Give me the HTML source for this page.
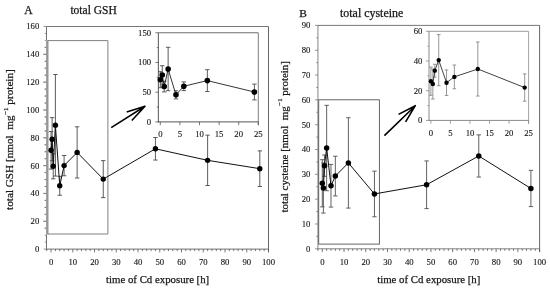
<!DOCTYPE html>
<html><head><meta charset="utf-8"><title>Figure</title>
<style>html,body{margin:0;padding:0;background:#fff}svg{display:block}</style></head>
<body>
<svg width="550" height="292" viewBox="0 0 550 292" font-family="Liberation Serif, serif" fill="#111" stroke="none">
<rect width="550" height="292" fill="#fff"/>
<line x1="46.50" y1="26.50" x2="268.50" y2="26.50" stroke="#666" stroke-width="0.9"/>
<line x1="268.50" y1="26.50" x2="268.50" y2="252.10" stroke="#555" stroke-width="0.9"/>
<line x1="46.50" y1="26.50" x2="46.50" y2="249.50" stroke="#707070" stroke-width="1"/>
<line x1="46.10" y1="249.10" x2="268.50" y2="249.10" stroke="#707070" stroke-width="1"/>
<line x1="43.60" y1="249.10" x2="46.50" y2="249.10" stroke="#777" stroke-width="0.8"/>
<text x="39.30" y="252.05" font-size="8.7" text-anchor="end" stroke="#222" stroke-width="0.12">0</text>
<line x1="44.80" y1="242.14" x2="46.50" y2="242.14" stroke="#777" stroke-width="0.8"/>
<line x1="44.80" y1="235.19" x2="46.50" y2="235.19" stroke="#777" stroke-width="0.8"/>
<line x1="44.80" y1="228.23" x2="46.50" y2="228.23" stroke="#777" stroke-width="0.8"/>
<line x1="43.60" y1="221.27" x2="46.50" y2="221.27" stroke="#777" stroke-width="0.8"/>
<text x="39.30" y="224.22" font-size="8.7" text-anchor="end" stroke="#222" stroke-width="0.12">20</text>
<line x1="44.80" y1="214.32" x2="46.50" y2="214.32" stroke="#777" stroke-width="0.8"/>
<line x1="44.80" y1="207.36" x2="46.50" y2="207.36" stroke="#777" stroke-width="0.8"/>
<line x1="44.80" y1="200.40" x2="46.50" y2="200.40" stroke="#777" stroke-width="0.8"/>
<line x1="43.60" y1="193.45" x2="46.50" y2="193.45" stroke="#777" stroke-width="0.8"/>
<text x="39.30" y="196.40" font-size="8.7" text-anchor="end" stroke="#222" stroke-width="0.12">40</text>
<line x1="44.80" y1="186.49" x2="46.50" y2="186.49" stroke="#777" stroke-width="0.8"/>
<line x1="44.80" y1="179.53" x2="46.50" y2="179.53" stroke="#777" stroke-width="0.8"/>
<line x1="44.80" y1="172.58" x2="46.50" y2="172.58" stroke="#777" stroke-width="0.8"/>
<line x1="43.60" y1="165.62" x2="46.50" y2="165.62" stroke="#777" stroke-width="0.8"/>
<text x="39.30" y="168.57" font-size="8.7" text-anchor="end" stroke="#222" stroke-width="0.12">60</text>
<line x1="44.80" y1="158.67" x2="46.50" y2="158.67" stroke="#777" stroke-width="0.8"/>
<line x1="44.80" y1="151.71" x2="46.50" y2="151.71" stroke="#777" stroke-width="0.8"/>
<line x1="44.80" y1="144.75" x2="46.50" y2="144.75" stroke="#777" stroke-width="0.8"/>
<line x1="43.60" y1="137.80" x2="46.50" y2="137.80" stroke="#777" stroke-width="0.8"/>
<text x="39.30" y="140.75" font-size="8.7" text-anchor="end" stroke="#222" stroke-width="0.12">80</text>
<line x1="44.80" y1="130.84" x2="46.50" y2="130.84" stroke="#777" stroke-width="0.8"/>
<line x1="44.80" y1="123.88" x2="46.50" y2="123.88" stroke="#777" stroke-width="0.8"/>
<line x1="44.80" y1="116.93" x2="46.50" y2="116.93" stroke="#777" stroke-width="0.8"/>
<line x1="43.60" y1="109.97" x2="46.50" y2="109.97" stroke="#777" stroke-width="0.8"/>
<text x="39.30" y="112.92" font-size="8.7" text-anchor="end" stroke="#222" stroke-width="0.12">100</text>
<line x1="44.80" y1="103.01" x2="46.50" y2="103.01" stroke="#777" stroke-width="0.8"/>
<line x1="44.80" y1="96.06" x2="46.50" y2="96.06" stroke="#777" stroke-width="0.8"/>
<line x1="44.80" y1="89.10" x2="46.50" y2="89.10" stroke="#777" stroke-width="0.8"/>
<line x1="43.60" y1="82.14" x2="46.50" y2="82.14" stroke="#777" stroke-width="0.8"/>
<text x="39.30" y="85.09" font-size="8.7" text-anchor="end" stroke="#222" stroke-width="0.12">120</text>
<line x1="44.80" y1="75.19" x2="46.50" y2="75.19" stroke="#777" stroke-width="0.8"/>
<line x1="44.80" y1="68.23" x2="46.50" y2="68.23" stroke="#777" stroke-width="0.8"/>
<line x1="44.80" y1="61.27" x2="46.50" y2="61.27" stroke="#777" stroke-width="0.8"/>
<line x1="43.60" y1="54.32" x2="46.50" y2="54.32" stroke="#777" stroke-width="0.8"/>
<text x="39.30" y="57.27" font-size="8.7" text-anchor="end" stroke="#222" stroke-width="0.12">140</text>
<line x1="44.80" y1="47.36" x2="46.50" y2="47.36" stroke="#777" stroke-width="0.8"/>
<line x1="44.80" y1="40.41" x2="46.50" y2="40.41" stroke="#777" stroke-width="0.8"/>
<line x1="44.80" y1="33.45" x2="46.50" y2="33.45" stroke="#777" stroke-width="0.8"/>
<line x1="43.60" y1="26.49" x2="46.50" y2="26.49" stroke="#777" stroke-width="0.8"/>
<text x="39.30" y="29.44" font-size="8.7" text-anchor="end" stroke="#222" stroke-width="0.12">160</text>
<line x1="46.70" y1="249.10" x2="46.70" y2="251.10" stroke="#555" stroke-width="0.8"/>
<line x1="51.05" y1="249.10" x2="51.05" y2="252.40" stroke="#555" stroke-width="0.8"/>
<text x="51.05" y="264.90" font-size="8.7" text-anchor="middle" stroke="#222" stroke-width="0.12">0</text>
<line x1="55.40" y1="249.10" x2="55.40" y2="251.10" stroke="#555" stroke-width="0.8"/>
<line x1="59.75" y1="249.10" x2="59.75" y2="251.10" stroke="#555" stroke-width="0.8"/>
<line x1="64.10" y1="249.10" x2="64.10" y2="251.10" stroke="#555" stroke-width="0.8"/>
<line x1="68.45" y1="249.10" x2="68.45" y2="251.10" stroke="#555" stroke-width="0.8"/>
<line x1="72.80" y1="249.10" x2="72.80" y2="252.40" stroke="#555" stroke-width="0.8"/>
<text x="72.80" y="264.90" font-size="8.7" text-anchor="middle" stroke="#222" stroke-width="0.12">10</text>
<line x1="77.14" y1="249.10" x2="77.14" y2="251.10" stroke="#555" stroke-width="0.8"/>
<line x1="81.49" y1="249.10" x2="81.49" y2="251.10" stroke="#555" stroke-width="0.8"/>
<line x1="85.84" y1="249.10" x2="85.84" y2="251.10" stroke="#555" stroke-width="0.8"/>
<line x1="90.19" y1="249.10" x2="90.19" y2="251.10" stroke="#555" stroke-width="0.8"/>
<line x1="94.54" y1="249.10" x2="94.54" y2="252.40" stroke="#555" stroke-width="0.8"/>
<text x="94.54" y="264.90" font-size="8.7" text-anchor="middle" stroke="#222" stroke-width="0.12">20</text>
<line x1="98.89" y1="249.10" x2="98.89" y2="251.10" stroke="#555" stroke-width="0.8"/>
<line x1="103.24" y1="249.10" x2="103.24" y2="251.10" stroke="#555" stroke-width="0.8"/>
<line x1="107.59" y1="249.10" x2="107.59" y2="251.10" stroke="#555" stroke-width="0.8"/>
<line x1="111.94" y1="249.10" x2="111.94" y2="251.10" stroke="#555" stroke-width="0.8"/>
<line x1="116.28" y1="249.10" x2="116.28" y2="252.40" stroke="#555" stroke-width="0.8"/>
<text x="116.28" y="264.90" font-size="8.7" text-anchor="middle" stroke="#222" stroke-width="0.12">30</text>
<line x1="120.63" y1="249.10" x2="120.63" y2="251.10" stroke="#555" stroke-width="0.8"/>
<line x1="124.98" y1="249.10" x2="124.98" y2="251.10" stroke="#555" stroke-width="0.8"/>
<line x1="129.33" y1="249.10" x2="129.33" y2="251.10" stroke="#555" stroke-width="0.8"/>
<line x1="133.68" y1="249.10" x2="133.68" y2="251.10" stroke="#555" stroke-width="0.8"/>
<line x1="138.03" y1="249.10" x2="138.03" y2="252.40" stroke="#555" stroke-width="0.8"/>
<text x="138.03" y="264.90" font-size="8.7" text-anchor="middle" stroke="#222" stroke-width="0.12">40</text>
<line x1="142.38" y1="249.10" x2="142.38" y2="251.10" stroke="#555" stroke-width="0.8"/>
<line x1="146.73" y1="249.10" x2="146.73" y2="251.10" stroke="#555" stroke-width="0.8"/>
<line x1="151.08" y1="249.10" x2="151.08" y2="251.10" stroke="#555" stroke-width="0.8"/>
<line x1="155.43" y1="249.10" x2="155.43" y2="251.10" stroke="#555" stroke-width="0.8"/>
<line x1="159.78" y1="249.10" x2="159.78" y2="252.40" stroke="#555" stroke-width="0.8"/>
<text x="159.78" y="264.90" font-size="8.7" text-anchor="middle" stroke="#222" stroke-width="0.12">50</text>
<line x1="164.12" y1="249.10" x2="164.12" y2="251.10" stroke="#555" stroke-width="0.8"/>
<line x1="168.47" y1="249.10" x2="168.47" y2="251.10" stroke="#555" stroke-width="0.8"/>
<line x1="172.82" y1="249.10" x2="172.82" y2="251.10" stroke="#555" stroke-width="0.8"/>
<line x1="177.17" y1="249.10" x2="177.17" y2="251.10" stroke="#555" stroke-width="0.8"/>
<line x1="181.52" y1="249.10" x2="181.52" y2="252.40" stroke="#555" stroke-width="0.8"/>
<text x="181.52" y="264.90" font-size="8.7" text-anchor="middle" stroke="#222" stroke-width="0.12">60</text>
<line x1="185.87" y1="249.10" x2="185.87" y2="251.10" stroke="#555" stroke-width="0.8"/>
<line x1="190.22" y1="249.10" x2="190.22" y2="251.10" stroke="#555" stroke-width="0.8"/>
<line x1="194.57" y1="249.10" x2="194.57" y2="251.10" stroke="#555" stroke-width="0.8"/>
<line x1="198.92" y1="249.10" x2="198.92" y2="251.10" stroke="#555" stroke-width="0.8"/>
<line x1="203.26" y1="249.10" x2="203.26" y2="252.40" stroke="#555" stroke-width="0.8"/>
<text x="203.26" y="264.90" font-size="8.7" text-anchor="middle" stroke="#222" stroke-width="0.12">70</text>
<line x1="207.61" y1="249.10" x2="207.61" y2="251.10" stroke="#555" stroke-width="0.8"/>
<line x1="211.96" y1="249.10" x2="211.96" y2="251.10" stroke="#555" stroke-width="0.8"/>
<line x1="216.31" y1="249.10" x2="216.31" y2="251.10" stroke="#555" stroke-width="0.8"/>
<line x1="220.66" y1="249.10" x2="220.66" y2="251.10" stroke="#555" stroke-width="0.8"/>
<line x1="225.01" y1="249.10" x2="225.01" y2="252.40" stroke="#555" stroke-width="0.8"/>
<text x="225.01" y="264.90" font-size="8.7" text-anchor="middle" stroke="#222" stroke-width="0.12">80</text>
<line x1="229.36" y1="249.10" x2="229.36" y2="251.10" stroke="#555" stroke-width="0.8"/>
<line x1="233.71" y1="249.10" x2="233.71" y2="251.10" stroke="#555" stroke-width="0.8"/>
<line x1="238.06" y1="249.10" x2="238.06" y2="251.10" stroke="#555" stroke-width="0.8"/>
<line x1="242.41" y1="249.10" x2="242.41" y2="251.10" stroke="#555" stroke-width="0.8"/>
<line x1="246.75" y1="249.10" x2="246.75" y2="252.40" stroke="#555" stroke-width="0.8"/>
<text x="246.75" y="264.90" font-size="8.7" text-anchor="middle" stroke="#222" stroke-width="0.12">90</text>
<line x1="251.10" y1="249.10" x2="251.10" y2="251.10" stroke="#555" stroke-width="0.8"/>
<line x1="255.45" y1="249.10" x2="255.45" y2="251.10" stroke="#555" stroke-width="0.8"/>
<line x1="259.80" y1="249.10" x2="259.80" y2="251.10" stroke="#555" stroke-width="0.8"/>
<line x1="264.15" y1="249.10" x2="264.15" y2="251.10" stroke="#555" stroke-width="0.8"/>
<line x1="268.50" y1="249.10" x2="268.50" y2="252.40" stroke="#555" stroke-width="0.8"/>
<text x="268.50" y="264.90" font-size="8.7" text-anchor="middle" stroke="#222" stroke-width="0.12">100</text>
<rect x="46.0" y="40.1" width="2.5" height="194.4" fill="#fff"/>
<rect x="46.1" y="40.1" width="2.4" height="194.4" fill="#969696"/>
<path d="M48 40.6 H107.9 V234 H48" fill="none" stroke="#808080" stroke-width="1"/>
<line x1="44.50" y1="228.23" x2="46.20" y2="228.23" stroke="#777" stroke-width="0.8"/>
<line x1="43.30" y1="221.27" x2="46.20" y2="221.27" stroke="#777" stroke-width="0.8"/>
<line x1="44.50" y1="214.32" x2="46.20" y2="214.32" stroke="#777" stroke-width="0.8"/>
<line x1="44.50" y1="207.36" x2="46.20" y2="207.36" stroke="#777" stroke-width="0.8"/>
<line x1="44.50" y1="200.40" x2="46.20" y2="200.40" stroke="#777" stroke-width="0.8"/>
<line x1="43.30" y1="193.45" x2="46.20" y2="193.45" stroke="#777" stroke-width="0.8"/>
<line x1="44.50" y1="186.49" x2="46.20" y2="186.49" stroke="#777" stroke-width="0.8"/>
<line x1="44.50" y1="179.53" x2="46.20" y2="179.53" stroke="#777" stroke-width="0.8"/>
<line x1="44.50" y1="172.58" x2="46.20" y2="172.58" stroke="#777" stroke-width="0.8"/>
<line x1="43.30" y1="165.62" x2="46.20" y2="165.62" stroke="#777" stroke-width="0.8"/>
<line x1="44.50" y1="158.67" x2="46.20" y2="158.67" stroke="#777" stroke-width="0.8"/>
<line x1="44.50" y1="151.71" x2="46.20" y2="151.71" stroke="#777" stroke-width="0.8"/>
<line x1="44.50" y1="144.75" x2="46.20" y2="144.75" stroke="#777" stroke-width="0.8"/>
<line x1="43.30" y1="137.80" x2="46.20" y2="137.80" stroke="#777" stroke-width="0.8"/>
<line x1="44.50" y1="130.84" x2="46.20" y2="130.84" stroke="#777" stroke-width="0.8"/>
<line x1="44.50" y1="123.88" x2="46.20" y2="123.88" stroke="#777" stroke-width="0.8"/>
<line x1="44.50" y1="116.93" x2="46.20" y2="116.93" stroke="#777" stroke-width="0.8"/>
<line x1="43.30" y1="109.97" x2="46.20" y2="109.97" stroke="#777" stroke-width="0.8"/>
<line x1="44.50" y1="103.01" x2="46.20" y2="103.01" stroke="#777" stroke-width="0.8"/>
<line x1="44.50" y1="96.06" x2="46.20" y2="96.06" stroke="#777" stroke-width="0.8"/>
<line x1="44.50" y1="89.10" x2="46.20" y2="89.10" stroke="#777" stroke-width="0.8"/>
<line x1="43.30" y1="82.14" x2="46.20" y2="82.14" stroke="#777" stroke-width="0.8"/>
<line x1="44.50" y1="75.19" x2="46.20" y2="75.19" stroke="#777" stroke-width="0.8"/>
<line x1="44.50" y1="68.23" x2="46.20" y2="68.23" stroke="#777" stroke-width="0.8"/>
<line x1="44.50" y1="61.27" x2="46.20" y2="61.27" stroke="#777" stroke-width="0.8"/>
<line x1="43.30" y1="54.32" x2="46.20" y2="54.32" stroke="#777" stroke-width="0.8"/>
<line x1="44.50" y1="47.36" x2="46.20" y2="47.36" stroke="#777" stroke-width="0.8"/>
<line x1="51.05" y1="131.54" x2="51.05" y2="169.10" stroke="#4a4a4a" stroke-width="0.9"/>
<line x1="48.85" y1="131.54" x2="53.25" y2="131.54" stroke="#4a4a4a" stroke-width="0.9"/>
<line x1="48.85" y1="169.10" x2="53.25" y2="169.10" stroke="#4a4a4a" stroke-width="0.9"/>
<line x1="52.14" y1="117.62" x2="52.14" y2="160.75" stroke="#4a4a4a" stroke-width="0.9"/>
<line x1="49.94" y1="117.62" x2="54.34" y2="117.62" stroke="#4a4a4a" stroke-width="0.9"/>
<line x1="49.94" y1="160.75" x2="54.34" y2="160.75" stroke="#4a4a4a" stroke-width="0.9"/>
<line x1="53.22" y1="153.80" x2="53.22" y2="178.84" stroke="#4a4a4a" stroke-width="0.9"/>
<line x1="51.02" y1="153.80" x2="55.42" y2="153.80" stroke="#4a4a4a" stroke-width="0.9"/>
<line x1="51.02" y1="178.84" x2="55.42" y2="178.84" stroke="#4a4a4a" stroke-width="0.9"/>
<line x1="55.40" y1="74.49" x2="55.40" y2="176.06" stroke="#4a4a4a" stroke-width="0.9"/>
<line x1="53.20" y1="74.49" x2="57.60" y2="74.49" stroke="#4a4a4a" stroke-width="0.9"/>
<line x1="53.20" y1="176.06" x2="57.60" y2="176.06" stroke="#4a4a4a" stroke-width="0.9"/>
<line x1="59.75" y1="176.34" x2="59.75" y2="195.26" stroke="#4a4a4a" stroke-width="0.9"/>
<line x1="57.55" y1="176.34" x2="61.95" y2="176.34" stroke="#4a4a4a" stroke-width="0.9"/>
<line x1="57.55" y1="195.26" x2="61.95" y2="195.26" stroke="#4a4a4a" stroke-width="0.9"/>
<line x1="64.10" y1="155.47" x2="64.10" y2="175.78" stroke="#4a4a4a" stroke-width="0.9"/>
<line x1="61.90" y1="155.47" x2="66.30" y2="155.47" stroke="#4a4a4a" stroke-width="0.9"/>
<line x1="61.90" y1="175.78" x2="66.30" y2="175.78" stroke="#4a4a4a" stroke-width="0.9"/>
<line x1="77.14" y1="126.80" x2="77.14" y2="178.00" stroke="#4a4a4a" stroke-width="0.9"/>
<line x1="74.94" y1="126.80" x2="79.34" y2="126.80" stroke="#4a4a4a" stroke-width="0.9"/>
<line x1="74.94" y1="178.00" x2="79.34" y2="178.00" stroke="#4a4a4a" stroke-width="0.9"/>
<line x1="103.24" y1="160.61" x2="103.24" y2="197.62" stroke="#4a4a4a" stroke-width="0.9"/>
<line x1="101.04" y1="160.61" x2="105.44" y2="160.61" stroke="#4a4a4a" stroke-width="0.9"/>
<line x1="101.04" y1="197.62" x2="105.44" y2="197.62" stroke="#4a4a4a" stroke-width="0.9"/>
<line x1="155.43" y1="137.52" x2="155.43" y2="160.06" stroke="#4a4a4a" stroke-width="0.9"/>
<line x1="153.23" y1="137.52" x2="157.63" y2="137.52" stroke="#4a4a4a" stroke-width="0.9"/>
<line x1="153.23" y1="160.06" x2="157.63" y2="160.06" stroke="#4a4a4a" stroke-width="0.9"/>
<line x1="207.61" y1="135.15" x2="207.61" y2="185.52" stroke="#4a4a4a" stroke-width="0.9"/>
<line x1="205.41" y1="135.15" x2="209.81" y2="135.15" stroke="#4a4a4a" stroke-width="0.9"/>
<line x1="205.41" y1="185.52" x2="209.81" y2="185.52" stroke="#4a4a4a" stroke-width="0.9"/>
<line x1="259.80" y1="150.87" x2="259.80" y2="186.49" stroke="#4a4a4a" stroke-width="0.9"/>
<line x1="257.60" y1="150.87" x2="262.00" y2="150.87" stroke="#4a4a4a" stroke-width="0.9"/>
<line x1="257.60" y1="186.49" x2="262.00" y2="186.49" stroke="#4a4a4a" stroke-width="0.9"/>
<polyline points="51.05,150.32 52.14,139.19 53.22,166.32 55.40,125.27 59.75,185.80 64.10,165.62 77.14,152.40 103.24,179.12 155.43,148.79 207.61,160.34 259.80,168.68" fill="none" stroke="#111" stroke-width="1.0"/>
<circle cx="51.05" cy="150.32" r="2.7" fill="#000"/>
<circle cx="52.14" cy="139.19" r="2.7" fill="#000"/>
<circle cx="53.22" cy="166.32" r="2.7" fill="#000"/>
<circle cx="55.40" cy="125.27" r="2.7" fill="#000"/>
<circle cx="59.75" cy="185.80" r="2.7" fill="#000"/>
<circle cx="64.10" cy="165.62" r="2.7" fill="#000"/>
<circle cx="77.14" cy="152.40" r="2.7" fill="#000"/>
<circle cx="103.24" cy="179.12" r="2.7" fill="#000"/>
<circle cx="155.43" cy="148.79" r="2.7" fill="#000"/>
<circle cx="207.61" cy="160.34" r="2.7" fill="#000"/>
<circle cx="259.80" cy="168.68" r="2.7" fill="#000"/>
<line x1="317.95" y1="25.40" x2="539.60" y2="25.40" stroke="#666" stroke-width="0.9"/>
<line x1="539.60" y1="25.40" x2="539.60" y2="251.80" stroke="#555" stroke-width="0.9"/>
<line x1="317.95" y1="25.40" x2="317.95" y2="249.20" stroke="#858585" stroke-width="1"/>
<line x1="317.55" y1="248.80" x2="539.60" y2="248.80" stroke="#858585" stroke-width="1"/>
<line x1="315.05" y1="248.80" x2="317.95" y2="248.80" stroke="#777" stroke-width="0.8"/>
<text x="310.40" y="251.75" font-size="8.7" text-anchor="end" stroke="#222" stroke-width="0.12">0</text>
<line x1="316.25" y1="236.39" x2="317.95" y2="236.39" stroke="#777" stroke-width="0.8"/>
<line x1="315.05" y1="223.98" x2="317.95" y2="223.98" stroke="#777" stroke-width="0.8"/>
<text x="310.40" y="226.93" font-size="8.7" text-anchor="end" stroke="#222" stroke-width="0.12">10</text>
<line x1="316.25" y1="211.57" x2="317.95" y2="211.57" stroke="#777" stroke-width="0.8"/>
<line x1="315.05" y1="199.16" x2="317.95" y2="199.16" stroke="#777" stroke-width="0.8"/>
<text x="310.40" y="202.11" font-size="8.7" text-anchor="end" stroke="#222" stroke-width="0.12">20</text>
<line x1="316.25" y1="186.75" x2="317.95" y2="186.75" stroke="#777" stroke-width="0.8"/>
<line x1="315.05" y1="174.33" x2="317.95" y2="174.33" stroke="#777" stroke-width="0.8"/>
<text x="310.40" y="177.28" font-size="8.7" text-anchor="end" stroke="#222" stroke-width="0.12">30</text>
<line x1="316.25" y1="161.92" x2="317.95" y2="161.92" stroke="#777" stroke-width="0.8"/>
<line x1="315.05" y1="149.51" x2="317.95" y2="149.51" stroke="#777" stroke-width="0.8"/>
<text x="310.40" y="152.46" font-size="8.7" text-anchor="end" stroke="#222" stroke-width="0.12">40</text>
<line x1="316.25" y1="137.10" x2="317.95" y2="137.10" stroke="#777" stroke-width="0.8"/>
<line x1="315.05" y1="124.69" x2="317.95" y2="124.69" stroke="#777" stroke-width="0.8"/>
<text x="310.40" y="127.64" font-size="8.7" text-anchor="end" stroke="#222" stroke-width="0.12">50</text>
<line x1="316.25" y1="112.28" x2="317.95" y2="112.28" stroke="#777" stroke-width="0.8"/>
<line x1="315.05" y1="99.87" x2="317.95" y2="99.87" stroke="#777" stroke-width="0.8"/>
<text x="310.40" y="102.82" font-size="8.7" text-anchor="end" stroke="#222" stroke-width="0.12">60</text>
<line x1="316.25" y1="87.46" x2="317.95" y2="87.46" stroke="#777" stroke-width="0.8"/>
<line x1="315.05" y1="75.05" x2="317.95" y2="75.05" stroke="#777" stroke-width="0.8"/>
<text x="310.40" y="78.00" font-size="8.7" text-anchor="end" stroke="#222" stroke-width="0.12">70</text>
<line x1="316.25" y1="62.63" x2="317.95" y2="62.63" stroke="#777" stroke-width="0.8"/>
<line x1="315.05" y1="50.22" x2="317.95" y2="50.22" stroke="#777" stroke-width="0.8"/>
<text x="310.40" y="53.17" font-size="8.7" text-anchor="end" stroke="#222" stroke-width="0.12">80</text>
<line x1="316.25" y1="37.81" x2="317.95" y2="37.81" stroke="#777" stroke-width="0.8"/>
<line x1="315.05" y1="25.40" x2="317.95" y2="25.40" stroke="#777" stroke-width="0.8"/>
<text x="310.40" y="28.35" font-size="8.7" text-anchor="end" stroke="#222" stroke-width="0.12">90</text>
<line x1="317.95" y1="248.80" x2="317.95" y2="250.80" stroke="#555" stroke-width="0.8"/>
<line x1="322.30" y1="248.80" x2="322.30" y2="252.10" stroke="#555" stroke-width="0.8"/>
<text x="322.30" y="264.90" font-size="8.7" text-anchor="middle" stroke="#222" stroke-width="0.12">0</text>
<line x1="326.65" y1="248.80" x2="326.65" y2="250.80" stroke="#555" stroke-width="0.8"/>
<line x1="330.99" y1="248.80" x2="330.99" y2="250.80" stroke="#555" stroke-width="0.8"/>
<line x1="335.34" y1="248.80" x2="335.34" y2="250.80" stroke="#555" stroke-width="0.8"/>
<line x1="339.68" y1="248.80" x2="339.68" y2="250.80" stroke="#555" stroke-width="0.8"/>
<line x1="344.03" y1="248.80" x2="344.03" y2="252.10" stroke="#555" stroke-width="0.8"/>
<text x="344.03" y="264.90" font-size="8.7" text-anchor="middle" stroke="#222" stroke-width="0.12">10</text>
<line x1="348.38" y1="248.80" x2="348.38" y2="250.80" stroke="#555" stroke-width="0.8"/>
<line x1="352.72" y1="248.80" x2="352.72" y2="250.80" stroke="#555" stroke-width="0.8"/>
<line x1="357.07" y1="248.80" x2="357.07" y2="250.80" stroke="#555" stroke-width="0.8"/>
<line x1="361.41" y1="248.80" x2="361.41" y2="250.80" stroke="#555" stroke-width="0.8"/>
<line x1="365.76" y1="248.80" x2="365.76" y2="252.10" stroke="#555" stroke-width="0.8"/>
<text x="365.76" y="264.90" font-size="8.7" text-anchor="middle" stroke="#222" stroke-width="0.12">20</text>
<line x1="370.11" y1="248.80" x2="370.11" y2="250.80" stroke="#555" stroke-width="0.8"/>
<line x1="374.45" y1="248.80" x2="374.45" y2="250.80" stroke="#555" stroke-width="0.8"/>
<line x1="378.80" y1="248.80" x2="378.80" y2="250.80" stroke="#555" stroke-width="0.8"/>
<line x1="383.14" y1="248.80" x2="383.14" y2="250.80" stroke="#555" stroke-width="0.8"/>
<line x1="387.49" y1="248.80" x2="387.49" y2="252.10" stroke="#555" stroke-width="0.8"/>
<text x="387.49" y="264.90" font-size="8.7" text-anchor="middle" stroke="#222" stroke-width="0.12">30</text>
<line x1="391.84" y1="248.80" x2="391.84" y2="250.80" stroke="#555" stroke-width="0.8"/>
<line x1="396.18" y1="248.80" x2="396.18" y2="250.80" stroke="#555" stroke-width="0.8"/>
<line x1="400.53" y1="248.80" x2="400.53" y2="250.80" stroke="#555" stroke-width="0.8"/>
<line x1="404.87" y1="248.80" x2="404.87" y2="250.80" stroke="#555" stroke-width="0.8"/>
<line x1="409.22" y1="248.80" x2="409.22" y2="252.10" stroke="#555" stroke-width="0.8"/>
<text x="409.22" y="264.90" font-size="8.7" text-anchor="middle" stroke="#222" stroke-width="0.12">40</text>
<line x1="413.57" y1="248.80" x2="413.57" y2="250.80" stroke="#555" stroke-width="0.8"/>
<line x1="417.91" y1="248.80" x2="417.91" y2="250.80" stroke="#555" stroke-width="0.8"/>
<line x1="422.26" y1="248.80" x2="422.26" y2="250.80" stroke="#555" stroke-width="0.8"/>
<line x1="426.60" y1="248.80" x2="426.60" y2="250.80" stroke="#555" stroke-width="0.8"/>
<line x1="430.95" y1="248.80" x2="430.95" y2="252.10" stroke="#555" stroke-width="0.8"/>
<text x="430.95" y="264.90" font-size="8.7" text-anchor="middle" stroke="#222" stroke-width="0.12">50</text>
<line x1="435.30" y1="248.80" x2="435.30" y2="250.80" stroke="#555" stroke-width="0.8"/>
<line x1="439.64" y1="248.80" x2="439.64" y2="250.80" stroke="#555" stroke-width="0.8"/>
<line x1="443.99" y1="248.80" x2="443.99" y2="250.80" stroke="#555" stroke-width="0.8"/>
<line x1="448.33" y1="248.80" x2="448.33" y2="250.80" stroke="#555" stroke-width="0.8"/>
<line x1="452.68" y1="248.80" x2="452.68" y2="252.10" stroke="#555" stroke-width="0.8"/>
<text x="452.68" y="264.90" font-size="8.7" text-anchor="middle" stroke="#222" stroke-width="0.12">60</text>
<line x1="457.03" y1="248.80" x2="457.03" y2="250.80" stroke="#555" stroke-width="0.8"/>
<line x1="461.37" y1="248.80" x2="461.37" y2="250.80" stroke="#555" stroke-width="0.8"/>
<line x1="465.72" y1="248.80" x2="465.72" y2="250.80" stroke="#555" stroke-width="0.8"/>
<line x1="470.06" y1="248.80" x2="470.06" y2="250.80" stroke="#555" stroke-width="0.8"/>
<line x1="474.41" y1="248.80" x2="474.41" y2="252.10" stroke="#555" stroke-width="0.8"/>
<text x="474.41" y="264.90" font-size="8.7" text-anchor="middle" stroke="#222" stroke-width="0.12">70</text>
<line x1="478.76" y1="248.80" x2="478.76" y2="250.80" stroke="#555" stroke-width="0.8"/>
<line x1="483.10" y1="248.80" x2="483.10" y2="250.80" stroke="#555" stroke-width="0.8"/>
<line x1="487.45" y1="248.80" x2="487.45" y2="250.80" stroke="#555" stroke-width="0.8"/>
<line x1="491.79" y1="248.80" x2="491.79" y2="250.80" stroke="#555" stroke-width="0.8"/>
<line x1="496.14" y1="248.80" x2="496.14" y2="252.10" stroke="#555" stroke-width="0.8"/>
<text x="496.14" y="264.90" font-size="8.7" text-anchor="middle" stroke="#222" stroke-width="0.12">80</text>
<line x1="500.49" y1="248.80" x2="500.49" y2="250.80" stroke="#555" stroke-width="0.8"/>
<line x1="504.83" y1="248.80" x2="504.83" y2="250.80" stroke="#555" stroke-width="0.8"/>
<line x1="509.18" y1="248.80" x2="509.18" y2="250.80" stroke="#555" stroke-width="0.8"/>
<line x1="513.52" y1="248.80" x2="513.52" y2="250.80" stroke="#555" stroke-width="0.8"/>
<line x1="517.87" y1="248.80" x2="517.87" y2="252.10" stroke="#555" stroke-width="0.8"/>
<text x="517.87" y="264.90" font-size="8.7" text-anchor="middle" stroke="#222" stroke-width="0.12">90</text>
<line x1="522.22" y1="248.80" x2="522.22" y2="250.80" stroke="#555" stroke-width="0.8"/>
<line x1="526.56" y1="248.80" x2="526.56" y2="250.80" stroke="#555" stroke-width="0.8"/>
<line x1="530.91" y1="248.80" x2="530.91" y2="250.80" stroke="#555" stroke-width="0.8"/>
<line x1="535.25" y1="248.80" x2="535.25" y2="250.80" stroke="#555" stroke-width="0.8"/>
<line x1="539.60" y1="248.80" x2="539.60" y2="252.10" stroke="#555" stroke-width="0.8"/>
<text x="539.60" y="264.90" font-size="8.7" text-anchor="middle" stroke="#222" stroke-width="0.12">100</text>
<rect x="318.7" y="99.8" width="60.70" height="144.30" fill="none" stroke="#555" stroke-width="0.9"/>
<line x1="322.30" y1="159.69" x2="322.30" y2="206.85" stroke="#505050" stroke-width="0.9"/>
<line x1="320.10" y1="159.69" x2="324.50" y2="159.69" stroke="#505050" stroke-width="0.9"/>
<line x1="320.10" y1="206.85" x2="324.50" y2="206.85" stroke="#505050" stroke-width="0.9"/>
<line x1="323.39" y1="162.92" x2="323.39" y2="213.06" stroke="#505050" stroke-width="0.9"/>
<line x1="321.19" y1="162.92" x2="325.59" y2="162.92" stroke="#505050" stroke-width="0.9"/>
<line x1="321.19" y1="213.06" x2="325.59" y2="213.06" stroke="#505050" stroke-width="0.9"/>
<line x1="324.47" y1="154.97" x2="324.47" y2="176.32" stroke="#505050" stroke-width="0.9"/>
<line x1="322.27" y1="154.97" x2="326.67" y2="154.97" stroke="#505050" stroke-width="0.9"/>
<line x1="322.27" y1="176.32" x2="326.67" y2="176.32" stroke="#505050" stroke-width="0.9"/>
<line x1="326.65" y1="105.33" x2="326.65" y2="190.72" stroke="#505050" stroke-width="0.9"/>
<line x1="324.45" y1="105.33" x2="328.85" y2="105.33" stroke="#505050" stroke-width="0.9"/>
<line x1="324.45" y1="190.72" x2="328.85" y2="190.72" stroke="#505050" stroke-width="0.9"/>
<line x1="330.99" y1="164.41" x2="330.99" y2="207.10" stroke="#505050" stroke-width="0.9"/>
<line x1="328.79" y1="164.41" x2="333.19" y2="164.41" stroke="#505050" stroke-width="0.9"/>
<line x1="328.79" y1="207.10" x2="333.19" y2="207.10" stroke="#505050" stroke-width="0.9"/>
<line x1="335.34" y1="156.21" x2="335.34" y2="195.93" stroke="#505050" stroke-width="0.9"/>
<line x1="333.14" y1="156.21" x2="337.54" y2="156.21" stroke="#505050" stroke-width="0.9"/>
<line x1="333.14" y1="195.93" x2="337.54" y2="195.93" stroke="#505050" stroke-width="0.9"/>
<line x1="348.38" y1="117.74" x2="348.38" y2="208.09" stroke="#505050" stroke-width="0.9"/>
<line x1="346.18" y1="117.74" x2="350.58" y2="117.74" stroke="#505050" stroke-width="0.9"/>
<line x1="346.18" y1="208.09" x2="350.58" y2="208.09" stroke="#505050" stroke-width="0.9"/>
<line x1="374.45" y1="171.11" x2="374.45" y2="216.78" stroke="#505050" stroke-width="0.9"/>
<line x1="372.25" y1="171.11" x2="376.65" y2="171.11" stroke="#505050" stroke-width="0.9"/>
<line x1="372.25" y1="216.78" x2="376.65" y2="216.78" stroke="#505050" stroke-width="0.9"/>
<line x1="426.60" y1="160.93" x2="426.60" y2="208.59" stroke="#505050" stroke-width="0.9"/>
<line x1="424.40" y1="160.93" x2="428.80" y2="160.93" stroke="#505050" stroke-width="0.9"/>
<line x1="424.40" y1="208.59" x2="428.80" y2="208.59" stroke="#505050" stroke-width="0.9"/>
<line x1="478.76" y1="134.87" x2="478.76" y2="177.06" stroke="#505050" stroke-width="0.9"/>
<line x1="476.56" y1="134.87" x2="480.96" y2="134.87" stroke="#505050" stroke-width="0.9"/>
<line x1="476.56" y1="177.06" x2="480.96" y2="177.06" stroke="#505050" stroke-width="0.9"/>
<line x1="530.91" y1="170.36" x2="530.91" y2="206.60" stroke="#505050" stroke-width="0.9"/>
<line x1="528.71" y1="170.36" x2="533.11" y2="170.36" stroke="#505050" stroke-width="0.9"/>
<line x1="528.71" y1="206.60" x2="533.11" y2="206.60" stroke="#505050" stroke-width="0.9"/>
<polyline points="322.30,183.27 323.39,187.99 324.47,165.65 326.65,148.02 330.99,185.75 335.34,176.07 348.38,162.92 374.45,193.94 426.60,184.76 478.76,155.97 530.91,188.48" fill="none" stroke="#111" stroke-width="1.0"/>
<circle cx="322.30" cy="183.27" r="2.75" fill="#000"/>
<circle cx="323.39" cy="187.99" r="2.75" fill="#000"/>
<circle cx="324.47" cy="165.65" r="2.75" fill="#000"/>
<circle cx="326.65" cy="148.02" r="2.75" fill="#000"/>
<circle cx="330.99" cy="185.75" r="2.75" fill="#000"/>
<circle cx="335.34" cy="176.07" r="2.75" fill="#000"/>
<circle cx="348.38" cy="162.92" r="2.75" fill="#000"/>
<circle cx="374.45" cy="193.94" r="2.75" fill="#000"/>
<circle cx="426.60" cy="184.76" r="2.75" fill="#000"/>
<circle cx="478.76" cy="155.97" r="2.75" fill="#000"/>
<circle cx="530.91" cy="188.48" r="2.75" fill="#000"/>
<line x1="158.35" y1="32.76" x2="258.30" y2="32.76" stroke="#707070" stroke-width="1"/>
<line x1="258.30" y1="32.76" x2="258.30" y2="125.20" stroke="#707070" stroke-width="0.9"/>
<line x1="158.35" y1="32.76" x2="158.35" y2="122.30" stroke="#555" stroke-width="1"/>
<line x1="157.95" y1="121.90" x2="258.30" y2="121.90" stroke="#555" stroke-width="1"/>
<line x1="155.35" y1="121.90" x2="158.35" y2="121.90" stroke="#555" stroke-width="0.8"/>
<text x="151.15" y="124.85" font-size="8.7" text-anchor="end" stroke="#222" stroke-width="0.12">0</text>
<line x1="156.75" y1="107.04" x2="158.35" y2="107.04" stroke="#555" stroke-width="0.8"/>
<line x1="155.35" y1="92.19" x2="158.35" y2="92.19" stroke="#555" stroke-width="0.8"/>
<text x="151.15" y="95.14" font-size="8.7" text-anchor="end" stroke="#222" stroke-width="0.12">50</text>
<line x1="156.75" y1="77.33" x2="158.35" y2="77.33" stroke="#555" stroke-width="0.8"/>
<line x1="155.35" y1="62.47" x2="158.35" y2="62.47" stroke="#555" stroke-width="0.8"/>
<text x="151.15" y="65.42" font-size="8.7" text-anchor="end" stroke="#222" stroke-width="0.12">100</text>
<line x1="156.75" y1="47.61" x2="158.35" y2="47.61" stroke="#555" stroke-width="0.8"/>
<line x1="155.35" y1="32.75" x2="158.35" y2="32.75" stroke="#555" stroke-width="0.8"/>
<text x="151.15" y="35.70" font-size="8.7" text-anchor="end" stroke="#222" stroke-width="0.12">150</text>
<line x1="160.30" y1="121.90" x2="160.30" y2="125.20" stroke="#555" stroke-width="0.8"/>
<text x="160.30" y="137.10" font-size="8.7" text-anchor="middle" stroke="#222" stroke-width="0.12">0</text>
<line x1="179.90" y1="121.90" x2="179.90" y2="125.20" stroke="#555" stroke-width="0.8"/>
<text x="179.90" y="137.10" font-size="8.7" text-anchor="middle" stroke="#222" stroke-width="0.12">5</text>
<line x1="199.50" y1="121.90" x2="199.50" y2="125.20" stroke="#555" stroke-width="0.8"/>
<text x="199.50" y="137.10" font-size="8.7" text-anchor="middle" stroke="#222" stroke-width="0.12">10</text>
<line x1="219.10" y1="121.90" x2="219.10" y2="125.20" stroke="#555" stroke-width="0.8"/>
<text x="219.10" y="137.10" font-size="8.7" text-anchor="middle" stroke="#222" stroke-width="0.12">15</text>
<line x1="238.70" y1="121.90" x2="238.70" y2="125.20" stroke="#555" stroke-width="0.8"/>
<text x="238.70" y="137.10" font-size="8.7" text-anchor="middle" stroke="#222" stroke-width="0.12">20</text>
<line x1="258.30" y1="121.90" x2="258.30" y2="125.20" stroke="#555" stroke-width="0.8"/>
<text x="258.30" y="137.10" font-size="8.7" text-anchor="middle" stroke="#222" stroke-width="0.12">25</text>
<line x1="160.30" y1="71.68" x2="160.30" y2="87.73" stroke="#4a4a4a" stroke-width="0.9"/>
<line x1="158.10" y1="71.68" x2="162.50" y2="71.68" stroke="#4a4a4a" stroke-width="0.9"/>
<line x1="158.10" y1="87.73" x2="162.50" y2="87.73" stroke="#4a4a4a" stroke-width="0.9"/>
<line x1="162.26" y1="65.74" x2="162.26" y2="84.16" stroke="#4a4a4a" stroke-width="0.9"/>
<line x1="160.06" y1="65.74" x2="164.46" y2="65.74" stroke="#4a4a4a" stroke-width="0.9"/>
<line x1="160.06" y1="84.16" x2="164.46" y2="84.16" stroke="#4a4a4a" stroke-width="0.9"/>
<line x1="164.22" y1="81.19" x2="164.22" y2="91.89" stroke="#4a4a4a" stroke-width="0.9"/>
<line x1="162.02" y1="81.19" x2="166.42" y2="81.19" stroke="#4a4a4a" stroke-width="0.9"/>
<line x1="162.02" y1="91.89" x2="166.42" y2="91.89" stroke="#4a4a4a" stroke-width="0.9"/>
<line x1="168.14" y1="47.32" x2="168.14" y2="90.70" stroke="#4a4a4a" stroke-width="0.9"/>
<line x1="165.94" y1="47.32" x2="170.34" y2="47.32" stroke="#4a4a4a" stroke-width="0.9"/>
<line x1="165.94" y1="90.70" x2="170.34" y2="90.70" stroke="#4a4a4a" stroke-width="0.9"/>
<line x1="175.98" y1="90.82" x2="175.98" y2="98.90" stroke="#4a4a4a" stroke-width="0.9"/>
<line x1="173.78" y1="90.82" x2="178.18" y2="90.82" stroke="#4a4a4a" stroke-width="0.9"/>
<line x1="173.78" y1="98.90" x2="178.18" y2="98.90" stroke="#4a4a4a" stroke-width="0.9"/>
<line x1="183.82" y1="81.90" x2="183.82" y2="90.58" stroke="#4a4a4a" stroke-width="0.9"/>
<line x1="181.62" y1="81.90" x2="186.02" y2="81.90" stroke="#4a4a4a" stroke-width="0.9"/>
<line x1="181.62" y1="90.58" x2="186.02" y2="90.58" stroke="#4a4a4a" stroke-width="0.9"/>
<line x1="207.34" y1="69.66" x2="207.34" y2="91.53" stroke="#4a4a4a" stroke-width="0.9"/>
<line x1="205.14" y1="69.66" x2="209.54" y2="69.66" stroke="#4a4a4a" stroke-width="0.9"/>
<line x1="205.14" y1="91.53" x2="209.54" y2="91.53" stroke="#4a4a4a" stroke-width="0.9"/>
<line x1="254.38" y1="84.10" x2="254.38" y2="99.91" stroke="#4a4a4a" stroke-width="0.9"/>
<line x1="252.18" y1="84.10" x2="256.58" y2="84.10" stroke="#4a4a4a" stroke-width="0.9"/>
<line x1="252.18" y1="99.91" x2="256.58" y2="99.91" stroke="#4a4a4a" stroke-width="0.9"/>
<polyline points="160.30,79.70 162.26,74.95 164.22,86.54 168.14,69.01 175.98,94.86 183.82,86.24 207.34,80.60 254.38,92.01" fill="none" stroke="#111" stroke-width="0.85"/>
<circle cx="160.30" cy="79.70" r="2.8" fill="#000"/>
<circle cx="162.26" cy="74.95" r="2.8" fill="#000"/>
<circle cx="164.22" cy="86.54" r="2.8" fill="#000"/>
<circle cx="168.14" cy="69.01" r="2.8" fill="#000"/>
<circle cx="175.98" cy="94.86" r="2.8" fill="#000"/>
<circle cx="183.82" cy="86.24" r="2.8" fill="#000"/>
<circle cx="207.34" cy="80.60" r="2.8" fill="#000"/>
<circle cx="254.38" cy="92.01" r="2.8" fill="#000"/>
<line x1="429.00" y1="31.30" x2="528.60" y2="31.30" stroke="#999" stroke-width="1"/>
<line x1="528.60" y1="31.30" x2="528.60" y2="123.70" stroke="#999" stroke-width="0.9"/>
<line x1="429.00" y1="31.30" x2="429.00" y2="120.80" stroke="#8a8a8a" stroke-width="1"/>
<line x1="428.60" y1="120.40" x2="528.60" y2="120.40" stroke="#8a8a8a" stroke-width="1"/>
<line x1="426.00" y1="120.40" x2="429.00" y2="120.40" stroke="#888" stroke-width="0.8"/>
<text x="422.40" y="123.35" font-size="8.7" text-anchor="end" stroke="#222" stroke-width="0.12">0</text>
<line x1="427.40" y1="105.55" x2="429.00" y2="105.55" stroke="#888" stroke-width="0.8"/>
<line x1="426.00" y1="90.70" x2="429.00" y2="90.70" stroke="#888" stroke-width="0.8"/>
<text x="422.40" y="93.65" font-size="8.7" text-anchor="end" stroke="#222" stroke-width="0.12">20</text>
<line x1="427.40" y1="75.85" x2="429.00" y2="75.85" stroke="#888" stroke-width="0.8"/>
<line x1="426.00" y1="61.00" x2="429.00" y2="61.00" stroke="#888" stroke-width="0.8"/>
<text x="422.40" y="63.95" font-size="8.7" text-anchor="end" stroke="#222" stroke-width="0.12">40</text>
<line x1="427.40" y1="46.15" x2="429.00" y2="46.15" stroke="#888" stroke-width="0.8"/>
<line x1="426.00" y1="31.30" x2="429.00" y2="31.30" stroke="#888" stroke-width="0.8"/>
<text x="422.40" y="34.25" font-size="8.7" text-anchor="end" stroke="#222" stroke-width="0.12">60</text>
<line x1="430.90" y1="120.40" x2="430.90" y2="123.70" stroke="#888" stroke-width="0.8"/>
<text x="430.90" y="135.50" font-size="8.7" text-anchor="middle" stroke="#222" stroke-width="0.12">0</text>
<line x1="450.44" y1="120.40" x2="450.44" y2="123.70" stroke="#888" stroke-width="0.8"/>
<text x="450.44" y="135.50" font-size="8.7" text-anchor="middle" stroke="#222" stroke-width="0.12">5</text>
<line x1="469.98" y1="120.40" x2="469.98" y2="123.70" stroke="#888" stroke-width="0.8"/>
<text x="469.98" y="135.50" font-size="8.7" text-anchor="middle" stroke="#222" stroke-width="0.12">10</text>
<line x1="489.52" y1="120.40" x2="489.52" y2="123.70" stroke="#888" stroke-width="0.8"/>
<text x="489.52" y="135.50" font-size="8.7" text-anchor="middle" stroke="#222" stroke-width="0.12">15</text>
<line x1="509.06" y1="120.40" x2="509.06" y2="123.70" stroke="#888" stroke-width="0.8"/>
<text x="509.06" y="135.50" font-size="8.7" text-anchor="middle" stroke="#222" stroke-width="0.12">20</text>
<line x1="528.60" y1="120.40" x2="528.60" y2="123.70" stroke="#888" stroke-width="0.8"/>
<text x="528.60" y="135.50" font-size="8.7" text-anchor="middle" stroke="#222" stroke-width="0.12">25</text>
<line x1="430.90" y1="67.09" x2="430.90" y2="95.30" stroke="#7c7c7c" stroke-width="0.8"/>
<line x1="429.10" y1="67.09" x2="432.70" y2="67.09" stroke="#7c7c7c" stroke-width="0.8"/>
<line x1="429.10" y1="95.30" x2="432.70" y2="95.30" stroke="#7c7c7c" stroke-width="0.8"/>
<line x1="432.85" y1="69.02" x2="432.85" y2="99.02" stroke="#7c7c7c" stroke-width="0.8"/>
<line x1="431.05" y1="69.02" x2="434.65" y2="69.02" stroke="#7c7c7c" stroke-width="0.8"/>
<line x1="431.05" y1="99.02" x2="434.65" y2="99.02" stroke="#7c7c7c" stroke-width="0.8"/>
<line x1="434.81" y1="64.27" x2="434.81" y2="77.04" stroke="#7c7c7c" stroke-width="0.8"/>
<line x1="433.01" y1="64.27" x2="436.61" y2="64.27" stroke="#7c7c7c" stroke-width="0.8"/>
<line x1="433.01" y1="77.04" x2="436.61" y2="77.04" stroke="#7c7c7c" stroke-width="0.8"/>
<line x1="438.72" y1="34.57" x2="438.72" y2="85.65" stroke="#7c7c7c" stroke-width="0.8"/>
<line x1="436.92" y1="34.57" x2="440.52" y2="34.57" stroke="#7c7c7c" stroke-width="0.8"/>
<line x1="436.92" y1="85.65" x2="440.52" y2="85.65" stroke="#7c7c7c" stroke-width="0.8"/>
<line x1="446.53" y1="69.91" x2="446.53" y2="95.45" stroke="#7c7c7c" stroke-width="0.8"/>
<line x1="444.73" y1="69.91" x2="448.33" y2="69.91" stroke="#7c7c7c" stroke-width="0.8"/>
<line x1="444.73" y1="95.45" x2="448.33" y2="95.45" stroke="#7c7c7c" stroke-width="0.8"/>
<line x1="454.35" y1="65.01" x2="454.35" y2="88.77" stroke="#7c7c7c" stroke-width="0.8"/>
<line x1="452.55" y1="65.01" x2="456.15" y2="65.01" stroke="#7c7c7c" stroke-width="0.8"/>
<line x1="452.55" y1="88.77" x2="456.15" y2="88.77" stroke="#7c7c7c" stroke-width="0.8"/>
<line x1="477.80" y1="41.99" x2="477.80" y2="96.05" stroke="#7c7c7c" stroke-width="0.8"/>
<line x1="476.00" y1="41.99" x2="479.60" y2="41.99" stroke="#7c7c7c" stroke-width="0.8"/>
<line x1="476.00" y1="96.05" x2="479.60" y2="96.05" stroke="#7c7c7c" stroke-width="0.8"/>
<line x1="524.69" y1="73.92" x2="524.69" y2="101.24" stroke="#7c7c7c" stroke-width="0.8"/>
<line x1="522.89" y1="73.92" x2="526.49" y2="73.92" stroke="#7c7c7c" stroke-width="0.8"/>
<line x1="522.89" y1="101.24" x2="526.49" y2="101.24" stroke="#7c7c7c" stroke-width="0.8"/>
<polyline points="430.90,81.20 432.85,84.02 434.81,70.65 438.72,60.11 446.53,82.68 454.35,76.89 477.80,69.02 524.69,87.58" fill="none" stroke="#111" stroke-width="0.8"/>
<circle cx="430.90" cy="81.20" r="2.2" fill="#000"/>
<circle cx="432.85" cy="84.02" r="2.2" fill="#000"/>
<circle cx="434.81" cy="70.65" r="2.2" fill="#000"/>
<circle cx="438.72" cy="60.11" r="2.2" fill="#000"/>
<circle cx="446.53" cy="82.68" r="2.2" fill="#000"/>
<circle cx="454.35" cy="76.89" r="2.2" fill="#000"/>
<circle cx="477.80" cy="69.02" r="2.2" fill="#000"/>
<circle cx="524.69" cy="87.58" r="2.2" fill="#000"/>
<path d="M111.2 127.6 L145.0 106.3 M126.7 112.0 L145.0 106.3 L131.8 120.5" fill="none" stroke="#000" stroke-width="1.6" stroke-linejoin="round"/>
<path d="M384.4 135.6 L415.3 105.7 M398.5 114.4 L415.3 105.7 L405.6 121.9" fill="none" stroke="#000" stroke-width="1.6" stroke-linejoin="round"/>
<text x="24.20" y="13.60" font-size="11.6" text-anchor="start" stroke="#222" stroke-width="0.25">A</text>
<text x="70.40" y="13.60" font-size="11.5" text-anchor="start" stroke="#222" stroke-width="0.25">total GSH</text>
<text x="299.30" y="17.00" font-size="11.4" text-anchor="start" stroke="#222" stroke-width="0.25">B</text>
<text x="340.00" y="17.00" font-size="11.95" text-anchor="start" stroke="#222" stroke-width="0.25">total cysteine</text>
<text x="157.65" y="282.80" font-size="10.8" text-anchor="middle" stroke="#222" stroke-width="0.25">time of Cd exposure [h]</text>
<text x="428.80" y="282.80" font-size="10.8" text-anchor="middle" stroke="#222" stroke-width="0.25">time of Cd exposure [h]</text>
<text transform="translate(13.1,139.55) rotate(-90)" font-size="11.2" text-anchor="middle" stroke="#222" stroke-width="0.25">total GSH [nmol&#160; mg<tspan font-size="6.94" dx="0.6" dy="-5.3">−1</tspan><tspan dy="5.3"> protein]</tspan></text>
<text transform="translate(287.6,136.8) rotate(-90)" font-size="10.95" text-anchor="middle" stroke="#222" stroke-width="0.25">total cysteine [nmol&#160; mg<tspan font-size="6.79" dx="0.6" dy="-5.3">−1</tspan><tspan dy="5.3"> protein]</tspan></text>
</svg>
</body></html>
